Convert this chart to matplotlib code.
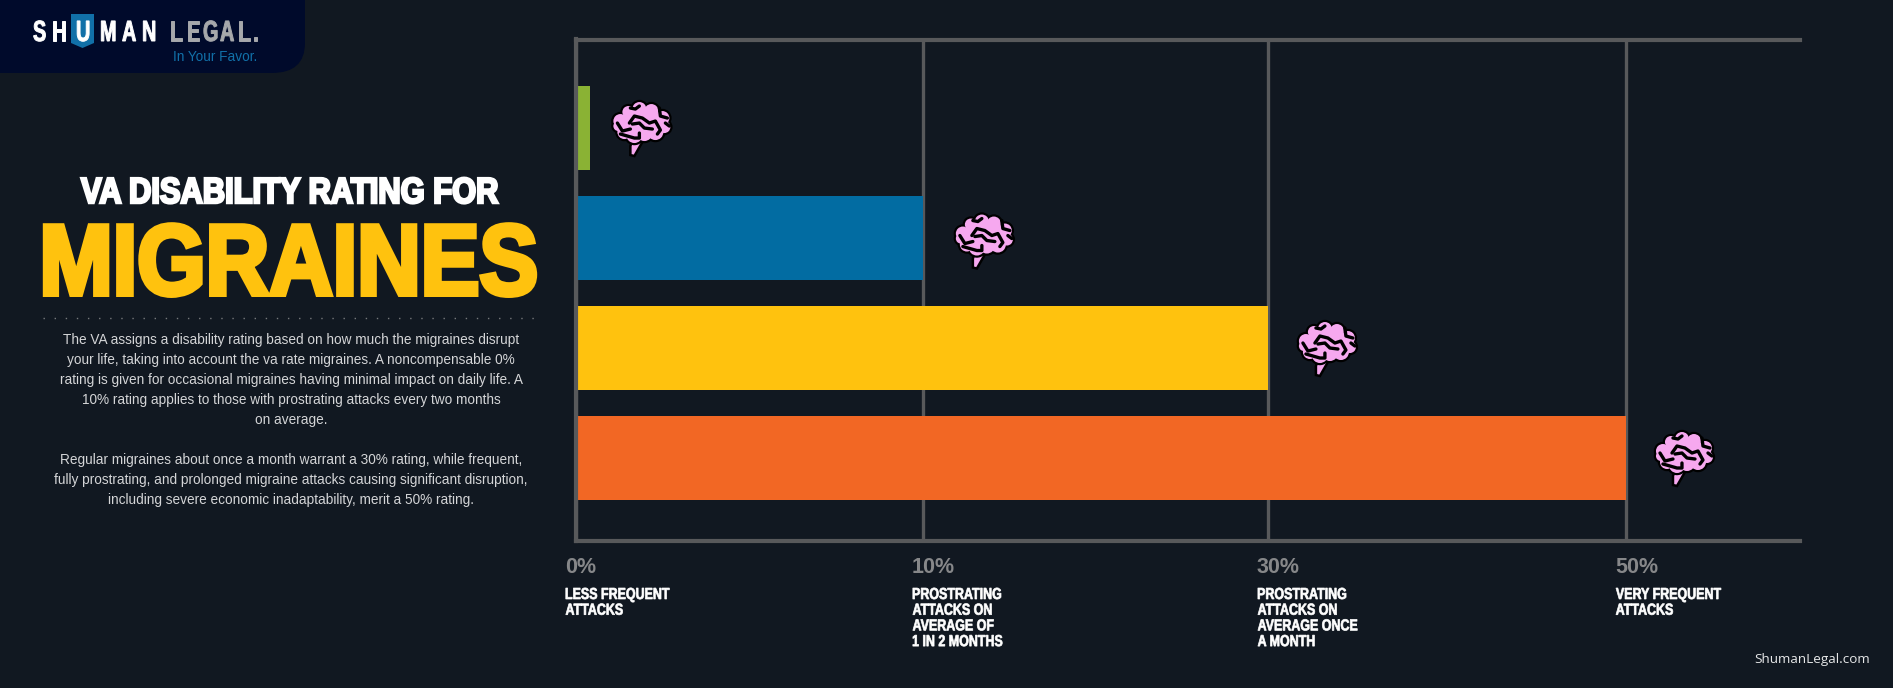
import numpy as np
import matplotlib
matplotlib.use("Agg")
import matplotlib.pyplot as plt
from matplotlib.patches import Circle, Polygon, PathPatch
from matplotlib.lines import Line2D
from matplotlib.path import Path
from matplotlib.text import Text
from matplotlib.textpath import TextPath
from matplotlib.font_manager import FontProperties
from matplotlib.transforms import Affine2D, ScaledTranslation, Bbox

# ---------- data ----------
ratings = [0.42, 10, 30, 50]
bar_colors = ["#8ab234", "#026ca2", "#ffc20e", "#f26724"]
tick_values = [0, 10, 30, 50]
tick_labels = ["0%", "10%", "30%", "50%"]
categories = ["LESS FREQUENT\nATTACKS",
              "PROSTRATING\nATTACKS ON\nAVERAGE OF\n1 IN 2 MONTHS",
              "PROSTRATING\nATTACKS ON\nAVERAGE ONCE\nA MONTH",
              "VERY FREQUENT\nATTACKS"]
para1 = ["The VA assigns a disability rating based on how much the migraines disrupt",
         "your life, taking into account the va rate migraines. A noncompensable 0%",
         "rating is given for occasional migraines having minimal impact on daily life. A",
         "10% rating applies to those with prostrating attacks every two months",
         "on average."]
para2 = ["Regular migraines about once a month warrant a 30% rating, while frequent,",
         "fully prostrating, and prolonged migraine attacks causing significant disruption,",
         "including severe economic inadaptability, merit a 50% rating."]
# the axis is not linear: the four ratings are drawn at uneven spacing
scale_values = [0, 10, 30, 50, 60]
scale_positions = [0, 347, 692, 1050, 1224]

W, H = 1893, 688
BG = "#111821"
GRID = "#58595b"
SANS = ["Liberation Sans", "DejaVu Sans"]


class Squeezed(Text):
    """A text artist drawn horizontally condensed (no condensed face is installed)."""

    def __init__(self, x, y, s, squeeze=1.0, stroke=0.0, leading=0.0, letter_x=None, **kw):
        super().__init__(x, y, s, **kw)
        self.squeeze, self.stroke, self.leading, self.letter_x = squeeze, stroke, leading, letter_x

    def _line_paths(self):
        x0, y0 = self.get_transform().transform(self.get_unitless_position())
        k = self.get_figure().dpi / 72
        fp = self.get_fontproperties()
        size = self.get_fontsize()
        if self.get_va() == "top":  # anchor is the top of the capitals
            y0 -= size * k * 0.72
        out = []
        if self.letter_x is not None:
            for ch, dx in zip(self.get_text(), self.letter_x):
                p = TextPath((0, 0), ch, size=size, prop=fp)
                out.append(p.transformed(Affine2D().scale(k * self.squeeze, k).translate(x0 + dx, y0)))
            return out
        for i, line in enumerate(self.get_text().split("\n")):
            p = TextPath((0, 0), line, size=size, prop=fp)
            e = p.get_extents()
            dx = {"left": -e.x0, "center": -(e.x0 + e.x1) / 2, "right": -e.x1}[self.get_ha()] * k * self.squeeze
            tr = Affine2D().scale(k * self.squeeze, k).translate(x0 + dx, y0 - i * self.leading)
            out.append(p.transformed(tr))
        return out

    def draw(self, renderer):
        if not self.get_visible():
            return
        color = matplotlib.colors.to_rgb(self.get_color())
        for path in self._line_paths():
            gc = renderer.new_gc()
            gc.set_foreground(color)
            gc.set_linewidth(self.stroke)
            gc.set_joinstyle("miter")
            renderer.draw_path(gc, path, Affine2D(), rgbFace=color)
            gc.restore()

    def get_window_extent(self, renderer=None, dpi=None):
        return Bbox.union([p.get_extents() for p in self._line_paths()])


fig = plt.figure(figsize=(W / 100, H / 100), dpi=100, facecolor=BG)
PX = Affine2D().scale(1 / W, -1 / H).translate(0, 1) + fig.transFigure
BOLD = FontProperties(family="Liberation Sans", weight="bold")


def T(x, y, s, **kw):
    return fig.text(x / W, 1 - y / H, s, **kw)


def S(x, y, s, size, squeeze, color, ha="left", stroke=0.0, zorder=4, letter_x=None):
    t = Squeezed(x / W, 1 - y / H, s, squeeze=squeeze, stroke=stroke, transform=fig.transFigure,
                 color=color, ha=ha, fontproperties=BOLD.copy(), zorder=zorder, letter_x=letter_x)
    t.set_fontsize(size)
    fig.add_artist(t)
    return t


# ---------- chart ----------
L, R, TOP, BOT = 575.8, 1800, 39.5, 540.5
ax = fig.add_axes([L / W, 1 - BOT / H, (R - L) / W, (BOT - TOP) / H], facecolor=BG)
ax.set_xscale("function", functions=(
    lambda v: np.interp(v, scale_values, scale_positions),
    lambda p: np.interp(p, scale_positions, scale_values)))
ax.set_xlim(0, 60)
ax.set_ylim(3.75, -0.805)
rows = np.arange(len(ratings))
ax.barh(rows, ratings, height=0.764, color=bar_colors, zorder=2)
ax.set_yticks([])
ax.set_xticks(tick_values)
ax.set_xticklabels(tick_labels, ha="left", fontsize=15.5, fontweight="bold",
                   color="#868789", family=SANS)
ax.minorticks_off()
ax.tick_params(axis="x", length=0, pad=12)
shift = ScaledTranslation(-11 / 100, 0, fig.dpi_scale_trans)
for lab in ax.get_xticklabels():
    lab.set_transform(lab.get_transform() + shift)
ax.grid(axis="x", color=GRID, lw=2.4, zorder=1)
for side in ("top", "bottom", "left"):
    ax.spines[side].set_color(GRID)
    ax.spines[side].set_linewidth(3.0)
ax.spines["right"].set_visible(False)

cat_tr = ax.get_xaxis_transform() + ScaledTranslation(-10 / 100, -(587.5 - TOP) / 100, fig.dpi_scale_trans)
for v, c in zip(tick_values, categories):
    t = Squeezed(v, 1, c, squeeze=0.78, stroke=0.5, leading=15.7, transform=cat_tr, color="white",
                 ha="left", va="top", fontproperties=BOLD.copy(), linespacing=1.0, clip_on=False, zorder=5)
    t.set_fontsize(11.5)
    ax.add_artist(t)

# ---------- brains ----------
BLOBS = [(-21, -8, 7), (-13, -17, 6), (-2, -20, 7), (10, -18, 7), (21, -11, 7), (23, -2, 6),
         (14, 3, 8), (3, 4, 8), (-7, 6, 8), (-17, 3, 7), (-23, -3, 5), (-1, -7, 14), (-12, -5, 10), (10, -6, 11)]
SQUIGGLES = [
    [(-12, -6), (-7, -13), (1, -11), (8, -6), (14, -8), (19, 1), (16, 5)],
    [(-9, -5), (-2, -6), (3, -1), (11, 0)],
    [(-24, -6), (-19, 2), (-11, 0)],
    [(-21, 5), (-7, 9), (-2, 9), (-2, 4)],
    [(-2, -23), (-6, -20), (-11, -21)],
    [(18, -21), (19, -13), (26, -11)],
    [(24, -6), (28, -3)],
]
STEM = [(-9, 11), (1, 13), (-3, 20), (-7, 27), (-11, 26), (-11, 17)]


def brain(value, row, dx, dy):
    px, py = ax.transData.transform((value, row))
    tr = Affine2D().translate(px + dx, H - py + dy) + PX
    fig.add_artist(Polygon(STEM, closed=True, fc="#f6a8ef", ec="black", lw=1.8, transform=tr, zorder=5))
    for x, y, r in BLOBS:
        fig.add_artist(Circle((x, y), r + 2.2, fc="black", ec="none", transform=tr, zorder=5))
    for x, y, r in BLOBS:
        fig.add_artist(Circle((x, y), r, fc="#f6a8ef", ec="none", transform=tr, zorder=6))
    for s in SQUIGGLES:
        xs, ys = zip(*s)
        fig.add_artist(Line2D(xs, ys, color="black", lw=2.4, solid_capstyle="round",
                              solid_joinstyle="round", transform=tr, zorder=7))


for v, row, dx, dy in zip(ratings, rows, [51, 61, 59, 58], [1, 3.5, 1, 1]):
    brain(v, row, dx, dy)

# ---------- left column ----------
S(289.5, 203, "VA DISABILITY RATING FOR", 26, 0.855, "white", ha="center", stroke=1.8)
S(290, 294.5, "MIGRAINES", 72, 0.88, "#ffc20e", ha="center", stroke=3.6)
fig.add_artist(Line2D([43, 538], [318, 318], color="#77797c", lw=1, ls=(0, (1, 7)), transform=PX))
for i, s in enumerate(para1):
    T(291, 340 + i * 20, s, ha="center", va="center", fontsize=9.85, color="#d4d5d7", family=SANS)
for i, s in enumerate(para2):
    T(291, 460 + i * 20, s, ha="center", va="center", fontsize=9.85, color="#d4d5d7", family=SANS)

# ---------- logo ----------
panel = Path([(0, 0), (305, 0), (305, 43), (305, 73), (272, 73), (0, 73), (0, 0)],
             [Path.MOVETO, Path.LINETO, Path.LINETO, Path.CURVE3, Path.CURVE3, Path.LINETO, Path.CLOSEPOLY])
fig.add_artist(PathPatch(panel, fc="#000a2b", ec="none", transform=PX, zorder=2))
fig.add_artist(Polygon([(71, 14), (94, 14), (94, 43), (82.5, 48), (71, 43)], closed=True,
                       fc="#1170a8", ec="none", transform=PX, zorder=3))
S(33, 41, "SHUMAN", 21, 0.68, "white", stroke=0.7, letter_x=[0, 19, 43, 67, 89, 109])
S(170, 41, "LEGAL.", 21, 0.68, "#a6a8ab", stroke=0.7, letter_x=[0, 17, 33, 50, 68, 83])
T(173, 61, "In Your Favor.", ha="left", va="baseline", fontsize=9.8, color="#1170a8", family=SANS, zorder=4)

T(1870, 660, "ShumanLegal.com", ha="right", va="center", fontsize=9.7, color="#e6e7e8",
  family=["Open Sans", "DejaVu Sans"])

fig.savefig("out.png", dpi=100, facecolor=BG)
